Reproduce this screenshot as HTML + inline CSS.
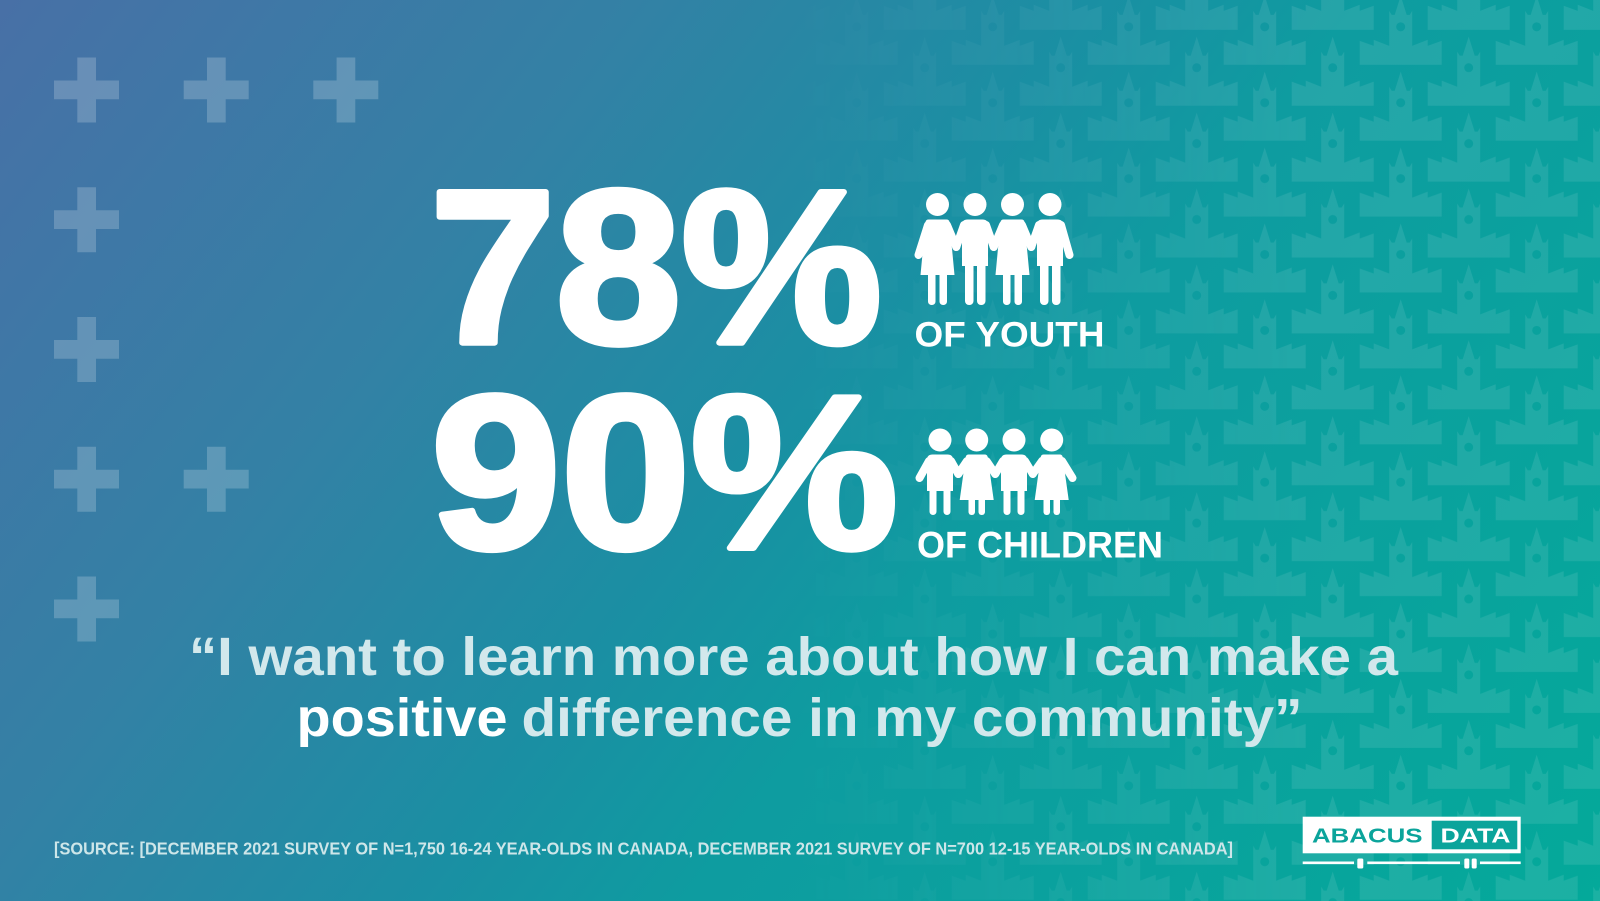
<!DOCTYPE html>
<html>
<head>
<meta charset="utf-8">
<style>
  html, body { margin:0; padding:0; width:1600px; height:901px; overflow:hidden; background:#2a86a3; }
  svg { display:block; }
  text { font-family: "Liberation Sans", Arial, sans-serif; }
</style>
</head>
<body>
<svg width="1600" height="901" viewBox="0 0 1600 901" xmlns="http://www.w3.org/2000/svg">
  <defs>
    <linearGradient id="bg" gradientUnits="userSpaceOnUse" x1="0" y1="0" x2="1456.5" y2="1092.4">
      <stop offset="0" stop-color="#4870a6"/>
      <stop offset="0.28" stop-color="#3381a5"/>
      <stop offset="0.48" stop-color="#1a8fa3"/>
      <stop offset="0.6" stop-color="#0e9ca0"/>
      <stop offset="1" stop-color="#04a99a"/>
    </linearGradient>
    <linearGradient id="fadeGrad" gradientUnits="userSpaceOnUse" x1="780" y1="0" x2="1300" y2="0">
      <stop offset="0" stop-color="#000"/>
      <stop offset="1" stop-color="#fff"/>
    </linearGradient>
    <mask id="fade" maskUnits="userSpaceOnUse" x="0" y="0" width="1600" height="901">
      <rect x="0" y="0" width="1600" height="901" fill="url(#fadeGrad)"/>
    </mask>
    <path id="b" fill-rule="evenodd" d="M0,0 L6,19 L9,19 L11.5,15 L11.5,69 L-11.5,69 L-11.5,15 L-9,19 L-6,19 Z
      M4.5,31 A4.5,4.5 0 1 0 -4.5,31 A4.5,4.5 0 1 0 4.5,31 Z
      M11.5,69 L11.5,50 L27,44 L27,50 L41,45 L41,69 Z
      M-11.5,69 L-11.5,50 L-27,44 L-27,50 L-41,45 L-41,69 Z"/>
    <pattern id="bld" patternUnits="userSpaceOnUse" x="0" y="0" width="136" height="75.9">
      <g fill="#fff">
        <use href="#b" x="108.7" y="36.7"/>
        <use href="#b" x="108.7" y="-39.2"/>
        <use href="#b" x="-27.3" y="36.7"/>
        <use href="#b" x="-27.3" y="-39.2"/>
        <use href="#b" x="40.7" y="-4.2"/>
        <use href="#b" x="40.7" y="71.7"/>
        <use href="#b" x="176.7" y="-4.2"/>
        <use href="#b" x="176.7" y="71.7"/>
      </g>
    </pattern>
    <path id="cross" d="M23.3,0 h18.7 v23 h23 v18.7 h-23 v23.3 h-18.7 v-23.3 h-23.3 v-18.7 h23.3 Z"/>
  </defs>

  <!-- background -->
  <rect x="0" y="0" width="1600" height="901" fill="url(#bg)"/>
  <rect x="0" y="0" width="1600" height="901" fill="url(#bld)" opacity="0.09" mask="url(#fade)"/>

  <!-- crosses -->
  <g fill="#fff" fill-opacity="0.2">
    <use href="#cross" x="54" y="57.5"/>
    <use href="#cross" x="183.7" y="57.5"/>
    <use href="#cross" x="313.3" y="57.5"/>
    <use href="#cross" x="54" y="187.3"/>
    <use href="#cross" x="54" y="317"/>
    <use href="#cross" x="54" y="446.8"/>
    <use href="#cross" x="183.7" y="446.8"/>
    <use href="#cross" x="54" y="576.5"/>
  </g>

  <!-- big numbers -->
  <text x="430" y="342.7" font-size="219" font-weight="700" fill="#fff" stroke="#fff" stroke-width="6" stroke-linejoin="round" textLength="452" lengthAdjust="spacingAndGlyphs">78%</text>
  <text x="431" y="548" font-size="219" font-weight="700" fill="#fff" stroke="#fff" stroke-width="6" stroke-linejoin="round" textLength="467" lengthAdjust="spacingAndGlyphs">90%</text>

  <!-- youth icon -->
  <g fill="#fff">
    <circle cx="937.5" cy="204.5" r="11.5"/>
    <circle cx="975" cy="204.5" r="11.5"/>
    <circle cx="1012.5" cy="204.5" r="11.5"/>
    <circle cx="1050" cy="204.5" r="11.5"/>
    <path d="M928.5,219.5 Q926,219.5 925.5,222 L920.5,275 L954.5,275 L949.5,222 Q949,219.5 946.5,219.5 Z"/>
    <rect x="928" y="270" width="7.5" height="35" rx="3.5"/>
    <rect x="939.5" y="270" width="7.5" height="35" rx="3.5"/>
    <path d="M962,266 L962,225 Q962,219.5 967.5,219.5 L982.5,219.5 Q988,219.5 988,225 L988,266 Z"/>
    <rect x="965" y="258" width="8.5" height="47" rx="4"/>
    <rect x="977" y="258" width="8.5" height="47" rx="4"/>
    <path d="M1003.5,219.5 Q1001,219.5 1000.5,222 L995.5,275 L1029.5,275 L1024.5,222 Q1024,219.5 1021.5,219.5 Z"/>
    <rect x="1003" y="270" width="7.5" height="35" rx="3.5"/>
    <rect x="1014.5" y="270" width="7.5" height="35" rx="3.5"/>
    <path d="M1037,266 L1037,225 Q1037,219.5 1042.5,219.5 L1057.5,219.5 Q1063,219.5 1063,225 L1063,266 Z"/>
    <rect x="1040" y="258" width="8.5" height="47" rx="4"/>
    <rect x="1052" y="258" width="8.5" height="47" rx="4"/>
  </g>
  <g stroke="#fff" stroke-width="8" stroke-linecap="round" fill="none">
    <line x1="928" y1="225" x2="918.5" y2="255"/>
    <line x1="947" y1="225" x2="956.25" y2="247"/>
    <line x1="964" y1="225" x2="956.25" y2="247"/>
    <line x1="986" y1="225" x2="993.75" y2="247"/>
    <line x1="1003" y1="225" x2="993.75" y2="247"/>
    <line x1="1022" y1="225" x2="1031.25" y2="247"/>
    <line x1="1039" y1="225" x2="1031.25" y2="247"/>
    <line x1="1061" y1="225" x2="1069.5" y2="255"/>
  </g>
  <text x="914.5" y="346.7" font-size="35" font-weight="700" fill="#fff" textLength="190" lengthAdjust="spacingAndGlyphs">OF YOUTH</text>

  <!-- children icon -->
  <g fill="#fff">
    <circle cx="940" cy="440" r="11.5"/>
    <circle cx="976.7" cy="440" r="11.5"/>
    <circle cx="1014" cy="440" r="11.5"/>
    <circle cx="1051.7" cy="440" r="11.5"/>
    <path d="M927,491 L927,460 Q927,454.5 932.5,454.5 L947.5,454.5 Q953,454.5 953,460 L953,491 Z"/>
    <rect x="929.5" y="484" width="7" height="31" rx="3.5"/>
    <rect x="943.5" y="484" width="7" height="31" rx="3.5"/>
    <path d="M968.7,454.5 Q966.2,454.5 965.7,457 L959.7,500 L993.7,500 L987.7,457 Q987.2,454.5 984.7,454.5 Z"/>
    <rect x="968.5" y="495" width="6.5" height="20" rx="3"/>
    <rect x="978.5" y="495" width="6.5" height="20" rx="3"/>
    <path d="M1001,491 L1001,460 Q1001,454.5 1006.5,454.5 L1021.5,454.5 Q1027,454.5 1027,460 L1027,491 Z"/>
    <rect x="1003.5" y="484" width="7" height="31" rx="3.5"/>
    <rect x="1017.5" y="484" width="7" height="31" rx="3.5"/>
    <path d="M1043.7,454.5 Q1041.2,454.5 1040.7,457 L1034.7,500 L1068.7,500 L1062.7,457 Q1062.2,454.5 1059.7,454.5 Z"/>
    <rect x="1043.5" y="495" width="6.5" height="20" rx="3"/>
    <rect x="1053.5" y="495" width="6.5" height="20" rx="3"/>
  </g>
  <g stroke="#fff" stroke-width="8" stroke-linecap="round" fill="none">
    <line x1="929" y1="461" x2="919.5" y2="478"/>
    <line x1="951" y1="461" x2="958.3" y2="474"/>
    <line x1="967" y1="461" x2="958.3" y2="474"/>
    <line x1="986.5" y1="461" x2="995.3" y2="474"/>
    <line x1="1003" y1="461" x2="995.3" y2="474"/>
    <line x1="1025" y1="461" x2="1032.8" y2="474"/>
    <line x1="1042" y1="461" x2="1032.8" y2="474"/>
    <line x1="1062" y1="461" x2="1072.5" y2="478"/>
  </g>
  <text x="917" y="557.3" font-size="37" font-weight="700" fill="#fff" textLength="246" lengthAdjust="spacingAndGlyphs">OF CHILDREN</text>

  <!-- quote -->
  <text x="189" y="675" font-size="53.5" font-weight="700" fill="#d2e8ec" textLength="1209" lengthAdjust="spacingAndGlyphs">“I want to learn more about how I can make a</text>
  <text x="296.5" y="736" font-size="53.5" font-weight="700" fill="#ffffff" textLength="211" lengthAdjust="spacingAndGlyphs">positive</text>
  <text x="521.5" y="736" font-size="53.5" font-weight="700" fill="#d2e8ec" textLength="781" lengthAdjust="spacingAndGlyphs">difference in my community”</text>

  <!-- source -->
  <text x="54" y="854.3" font-size="17.6" font-weight="700" fill="#cde6e9" textLength="1179" lengthAdjust="spacingAndGlyphs">[SOURCE: [DECEMBER 2021 SURVEY OF N=1,750 16-24 YEAR-OLDS IN CANADA, DECEMBER 2021 SURVEY OF N=700 12-15 YEAR-OLDS IN CANADA]</text>

  <!-- logo -->
  <rect x="1302.7" y="816.7" width="218" height="36.6" fill="#fff"/>
  <rect x="1431.7" y="820.7" width="85.6" height="28.6" fill="#0ba49b"/>
  <text x="1312" y="842.7" font-size="20" font-weight="700" fill="#0ba49b" textLength="110.5" lengthAdjust="spacingAndGlyphs">ABACUS</text>
  <text x="1440.5" y="842.7" font-size="20" font-weight="700" fill="#fff" textLength="70" lengthAdjust="spacingAndGlyphs">DATA</text>
  <g fill="#fff">
    <rect x="1302.7" y="861.5" width="51.3" height="2.6"/>
    <rect x="1367.3" y="861.5" width="92.7" height="2.6"/>
    <rect x="1480" y="861.5" width="40.7" height="2.6"/>
    <rect x="1357.3" y="858.5" width="6" height="10" rx="1.5"/>
    <rect x="1464.3" y="858.5" width="5" height="10" rx="1.5"/>
    <rect x="1471.7" y="858.5" width="5" height="10" rx="1.5"/>
  </g>
</svg>
</body>
</html>
